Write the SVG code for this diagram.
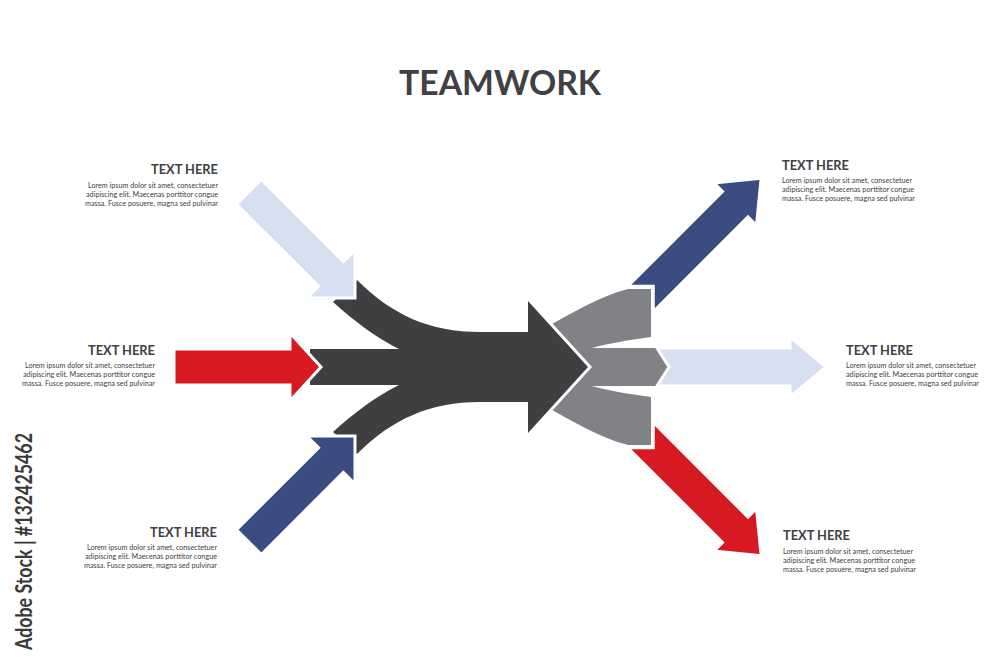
<svg xmlns="http://www.w3.org/2000/svg" width="1000" height="667" viewBox="0 0 1000 667">
<style>
.dark{fill:#3f3f41}
.gray{fill:#808285}
.arr{stroke:#ffffff;stroke-width:3;stroke-linejoin:miter}
.lb{fill:#d6e0f1}
.red{fill:#d71a22}
.navy{fill:#3b4c80}
.title{font-family:Lato,"Open Sans","Liberation Sans",sans-serif;font-weight:700;font-size:35px;fill:#414042}
.hd{font-family:Lato,"Open Sans","Liberation Sans",sans-serif;font-weight:700;font-size:13.5px;fill:#414042}
.bd{font-family:Lato,"Open Sans","Liberation Sans",sans-serif;font-size:7.5px;fill:#414042}
.r{text-anchor:end}
.wm{font-family:Lato,"Open Sans","Liberation Sans",sans-serif;font-weight:700;font-size:22px;fill:#3a3a3a}
</style>
<rect width="1000" height="667" fill="#ffffff"/>

<g id="title"><text class="title" x="500" y="95" text-anchor="middle" textLength="202" lengthAdjust="spacingAndGlyphs">TEAMWORK</text></g>

<g id="connectors">
  <g id="split-gray">
    <path class="gray" d="M545,328 C572,313 600,296 628,289 L651,289 L651,337 C628,340 605,344 585,350 L560,352 Z"/>
    <path class="gray" d="M560,348 H660 L672,367 L660,386 H560 Z"/>
    <path class="gray" d="M545,406 C572,421 600,438 628,445 L651,445 L651,397 C628,394 605,390 585,384 L560,382 Z"/>
  </g>
  <polyline points="528,301 588,367 528,433" fill="none" stroke="#ffffff" stroke-width="6" stroke-linejoin="miter"/>
  <g id="merge-dark">
    <path class="dark" d="M357,280 C392,315 430,332 480,332 L540,332 L540,367 L470,367 C420,367 375,340 333,302 Z"/>
    <path class="dark" d="M357,454 C392,419 430,402 480,402 L540,402 L540,367 L470,367 C420,367 375,394 333,432 Z"/>
    <path class="dark" d="M310,349 H540 V385 H310 Z"/>
    <path class="dark" d="M528,301 L588,367 L528,433 Z"/>
  </g>
</g>

<g id="in-top"><polygon class="lb arr" points="0,-17.5 116,-17.5 116,-34 150,0 116,34 116,17.5 0,17.5" transform="translate(355,298) rotate(45) translate(-150,0)"/></g>
<g id="in-mid"><polygon class="red arr" points="174,349 290,349 290,333 321,367 290,401 290,385 174,385"/></g>
<g id="in-bottom"><polygon class="navy arr" points="0,-17.5 116,-17.5 116,-34 150,0 116,34 116,17.5 0,17.5" transform="translate(355,436) rotate(-45) translate(-150,0)"/></g>

<g id="out-top"><polygon class="navy arr" points="0,-18 134,-18 134,-30 170.6,0 134,30 134,18 0,18 18,0" transform="translate(640.5,299) rotate(-45)"/></g>
<g id="out-mid"><polygon class="lb arr" points="657,348 790,348 790,337 826,367 790,397 790,386 657,386 669,367"/></g>
<g id="out-bottom"><polygon class="red arr" points="0,-18 134,-18 134,-30 170.6,0 134,30 134,18 0,18 18,0" transform="translate(640.5,435) rotate(45)"/></g>

<g id="label-left-top">
  <text class="hd r" x="218" y="174" textLength="67" lengthAdjust="spacingAndGlyphs">TEXT HERE</text>
  <text class="bd r" x="218" y="188" textLength="130" lengthAdjust="spacingAndGlyphs">Lorem ipsum dolor sit amet, consectetuer</text>
  <text class="bd r" x="218" y="197" textLength="132" lengthAdjust="spacingAndGlyphs">adipiscing elit. Maecenas porttitor congue</text>
  <text class="bd r" x="218" y="206" textLength="133" lengthAdjust="spacingAndGlyphs">massa. Fusce posuere, magna sed pulvinar</text>
</g>
<g id="label-left-mid">
  <text class="hd r" x="155" y="355" textLength="67" lengthAdjust="spacingAndGlyphs">TEXT HERE</text>
  <text class="bd r" x="155" y="368" textLength="130" lengthAdjust="spacingAndGlyphs">Lorem ipsum dolor sit amet, consectetuer</text>
  <text class="bd r" x="155" y="377" textLength="132" lengthAdjust="spacingAndGlyphs">adipiscing elit. Maecenas porttitor congue</text>
  <text class="bd r" x="155" y="386" textLength="133" lengthAdjust="spacingAndGlyphs">massa. Fusce posuere, magna sed pulvinar</text>
</g>
<g id="label-left-bottom">
  <text class="hd r" x="217" y="537" textLength="67" lengthAdjust="spacingAndGlyphs">TEXT HERE</text>
  <text class="bd r" x="217" y="549.5" textLength="130" lengthAdjust="spacingAndGlyphs">Lorem ipsum dolor sit amet, consectetuer</text>
  <text class="bd r" x="217" y="558.5" textLength="132" lengthAdjust="spacingAndGlyphs">adipiscing elit. Maecenas porttitor congue</text>
  <text class="bd r" x="217" y="567.5" textLength="133" lengthAdjust="spacingAndGlyphs">massa. Fusce posuere, magna sed pulvinar</text>
</g>
<g id="label-right-top">
  <text class="hd" x="782" y="170" textLength="67" lengthAdjust="spacingAndGlyphs">TEXT HERE</text>
  <text class="bd" x="782" y="183" textLength="130" lengthAdjust="spacingAndGlyphs">Lorem ipsum dolor sit amet, consectetuer</text>
  <text class="bd" x="782" y="192" textLength="132" lengthAdjust="spacingAndGlyphs">adipiscing elit. Maecenas porttitor congue</text>
  <text class="bd" x="782" y="201" textLength="133" lengthAdjust="spacingAndGlyphs">massa. Fusce posuere, magna sed pulvinar</text>
</g>
<g id="label-right-mid">
  <text class="hd" x="846" y="355" textLength="67" lengthAdjust="spacingAndGlyphs">TEXT HERE</text>
  <text class="bd" x="846" y="368" textLength="130" lengthAdjust="spacingAndGlyphs">Lorem ipsum dolor sit amet, consectetuer</text>
  <text class="bd" x="846" y="377" textLength="132" lengthAdjust="spacingAndGlyphs">adipiscing elit. Maecenas porttitor congue</text>
  <text class="bd" x="846" y="386" textLength="133" lengthAdjust="spacingAndGlyphs">massa. Fusce posuere, magna sed pulvinar</text>
</g>
<g id="label-right-bottom">
  <text class="hd" x="783" y="540" textLength="67" lengthAdjust="spacingAndGlyphs">TEXT HERE</text>
  <text class="bd" x="783" y="553.5" textLength="130" lengthAdjust="spacingAndGlyphs">Lorem ipsum dolor sit amet, consectetuer</text>
  <text class="bd" x="783" y="562.5" textLength="132" lengthAdjust="spacingAndGlyphs">adipiscing elit. Maecenas porttitor congue</text>
  <text class="bd" x="783" y="571.5" textLength="133" lengthAdjust="spacingAndGlyphs">massa. Fusce posuere, magna sed pulvinar</text>
</g>

<g id="credit"><text class="wm" transform="translate(31.5,541.5) rotate(-90)" text-anchor="middle" textLength="217" lengthAdjust="spacingAndGlyphs">Adobe Stock | #132425462</text></g>
</svg>
